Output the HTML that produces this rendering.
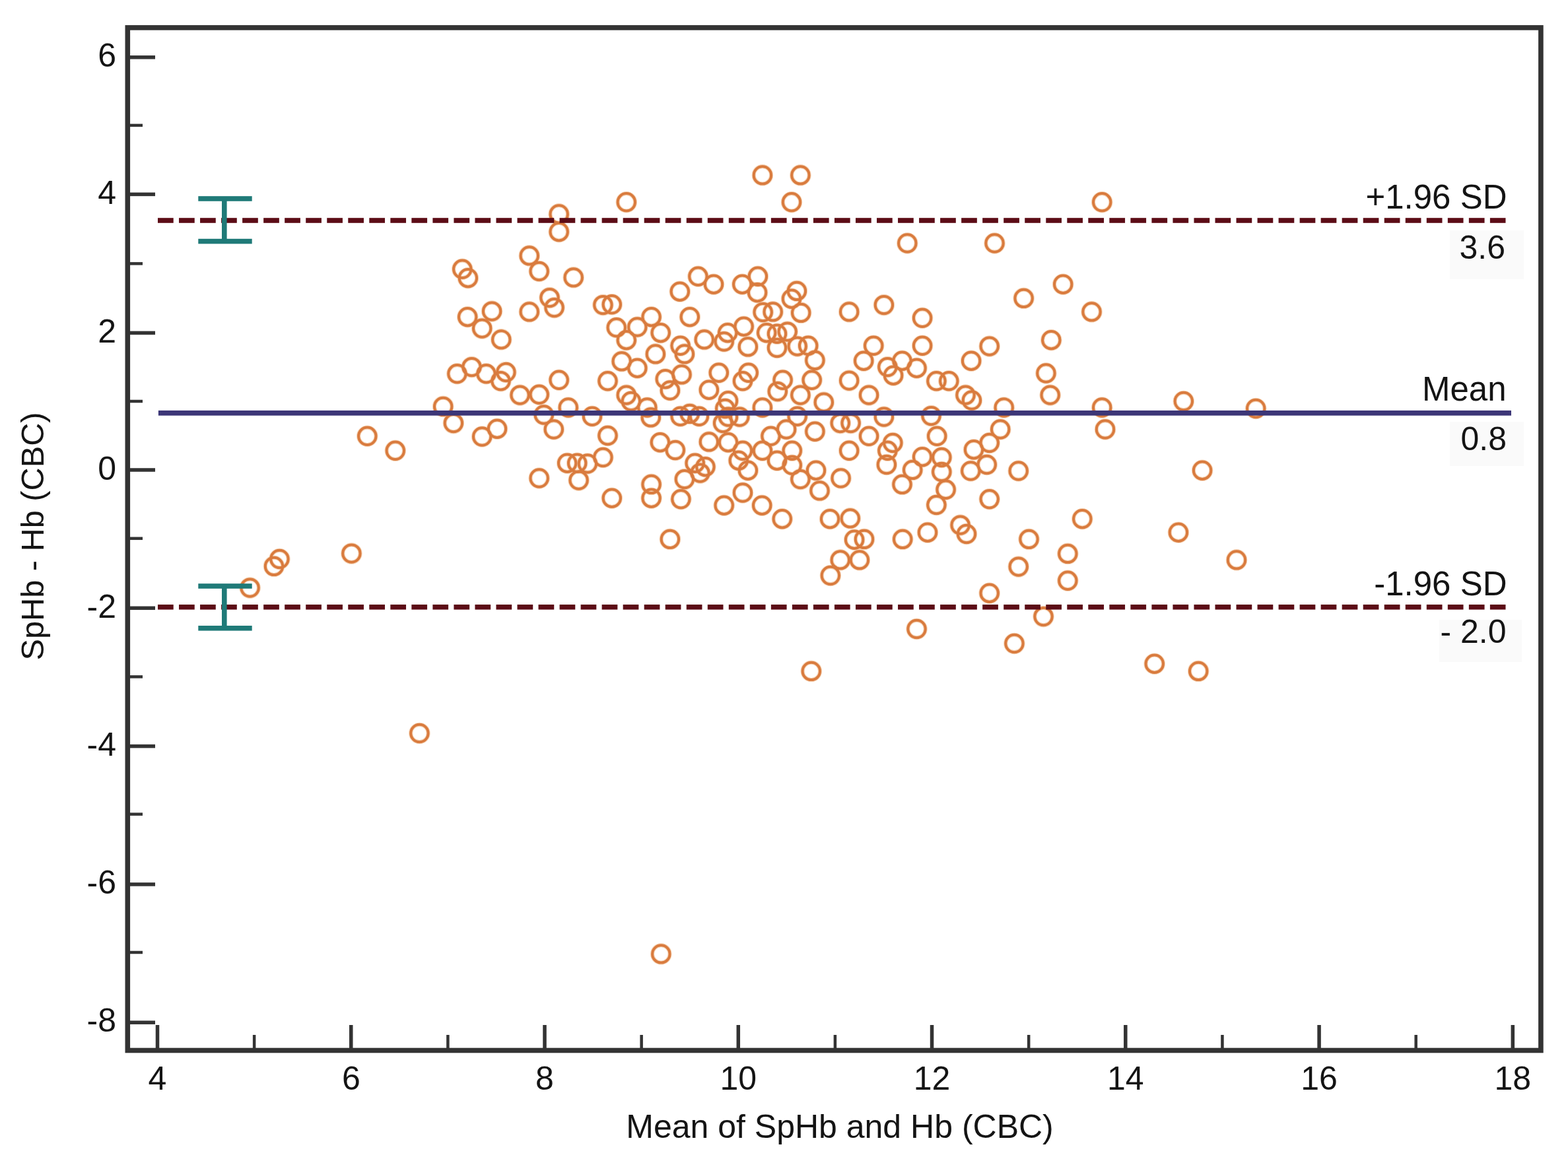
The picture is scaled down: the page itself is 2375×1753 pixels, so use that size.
<!DOCTYPE html><html><head><meta charset="utf-8"><title>Bland-Altman plot</title>
<style>html,body{margin:0;padding:0;background:#fff;overflow:hidden;}svg{display:block;}text{font-family:'Liberation Sans', Arial, Helvetica, sans-serif;fill:#141414;}</style></head><body>
<svg width="2375" height="1753" viewBox="0 0 2375 1753">
<rect x="0" y="0" width="2375" height="1753" fill="#ffffff"/>
<rect x="2196" y="349" width="112" height="74" fill="#fafafa"/>
<rect x="2196" y="639" width="112" height="67" fill="#fafafa"/>
<rect x="2180" y="939" width="125" height="64" fill="#fafafa"/>
<g fill="none" stroke="#f6d6ba" stroke-width="6.2">
<circle cx="846.7" cy="324.4" r="13.2"/>
<circle cx="846.7" cy="351.2" r="13.2"/>
<circle cx="801.8" cy="387.4" r="13.2"/>
<circle cx="816.7" cy="411.0" r="13.2"/>
<circle cx="868.7" cy="420.4" r="13.2"/>
<circle cx="700.3" cy="407.8" r="13.2"/>
<circle cx="708.9" cy="421.2" r="13.2"/>
<circle cx="832.5" cy="451.1" r="13.2"/>
<circle cx="839.6" cy="466.1" r="13.2"/>
<circle cx="801.8" cy="472.4" r="13.2"/>
<circle cx="745.1" cy="471.6" r="13.2"/>
<circle cx="708.2" cy="480.2" r="13.2"/>
<circle cx="948.8" cy="306.3" r="13.2"/>
<circle cx="1154.9" cy="265.4" r="13.2"/>
<circle cx="1212.4" cy="265.4" r="13.2"/>
<circle cx="1199.0" cy="306.3" r="13.2"/>
<circle cx="1057.4" cy="418.8" r="13.2"/>
<circle cx="1081.0" cy="430.7" r="13.2"/>
<circle cx="1029.8" cy="441.7" r="13.2"/>
<circle cx="1124.3" cy="430.7" r="13.2"/>
<circle cx="1147.9" cy="418.8" r="13.2"/>
<circle cx="1147.1" cy="443.2" r="13.2"/>
<circle cx="1206.9" cy="440.9" r="13.2"/>
<circle cx="1199.0" cy="452.7" r="13.2"/>
<circle cx="1213.2" cy="473.9" r="13.2"/>
<circle cx="1155.7" cy="473.1" r="13.2"/>
<circle cx="1170.7" cy="472.4" r="13.2"/>
<circle cx="913.4" cy="462.1" r="13.2"/>
<circle cx="926.8" cy="461.3" r="13.2"/>
<circle cx="986.6" cy="480.2" r="13.2"/>
<circle cx="1044.8" cy="480.2" r="13.2"/>
<circle cx="1374.3" cy="368.5" r="13.2"/>
<circle cx="1506.5" cy="368.5" r="13.2"/>
<circle cx="1550.6" cy="451.9" r="13.2"/>
<circle cx="1286.2" cy="472.4" r="13.2"/>
<circle cx="1338.9" cy="462.1" r="13.2"/>
<circle cx="1397.1" cy="481.8" r="13.2"/>
<circle cx="1669.2" cy="306.3" r="13.2"/>
<circle cx="1610.2" cy="430.7" r="13.2"/>
<circle cx="1653.5" cy="472.4" r="13.2"/>
<circle cx="730.2" cy="497.6" r="13.2"/>
<circle cx="759.3" cy="514.4" r="13.2"/>
<circle cx="692.4" cy="566.3" r="13.2"/>
<circle cx="714.5" cy="556.1" r="13.2"/>
<circle cx="736.5" cy="566.3" r="13.2"/>
<circle cx="766.4" cy="564.0" r="13.2"/>
<circle cx="758.5" cy="577.3" r="13.2"/>
<circle cx="846.7" cy="575.8" r="13.2"/>
<circle cx="787.6" cy="598.6" r="13.2"/>
<circle cx="816.7" cy="597.8" r="13.2"/>
<circle cx="671.2" cy="615.9" r="13.2"/>
<circle cx="686.9" cy="641.1" r="13.2"/>
<circle cx="753.0" cy="649.7" r="13.2"/>
<circle cx="730.2" cy="661.5" r="13.2"/>
<circle cx="823.8" cy="628.5" r="13.2"/>
<circle cx="860.8" cy="617.5" r="13.2"/>
<circle cx="838.8" cy="650.5" r="13.2"/>
<circle cx="897.0" cy="630.8" r="13.2"/>
<circle cx="556.3" cy="660.8" r="13.2"/>
<circle cx="598.8" cy="682.8" r="13.2"/>
<circle cx="816.7" cy="724.5" r="13.2"/>
<circle cx="859.2" cy="701.7" r="13.2"/>
<circle cx="874.2" cy="701.7" r="13.2"/>
<circle cx="889.9" cy="702.5" r="13.2"/>
<circle cx="876.6" cy="727.6" r="13.2"/>
<circle cx="933.8" cy="496.3" r="13.2"/>
<circle cx="965.3" cy="495.5" r="13.2"/>
<circle cx="1000.7" cy="504.2" r="13.2"/>
<circle cx="1066.8" cy="514.4" r="13.2"/>
<circle cx="1102.2" cy="504.2" r="13.2"/>
<circle cx="1096.7" cy="517.5" r="13.2"/>
<circle cx="1126.6" cy="494.7" r="13.2"/>
<circle cx="1132.9" cy="525.4" r="13.2"/>
<circle cx="1161.2" cy="504.2" r="13.2"/>
<circle cx="1177.0" cy="505.7" r="13.2"/>
<circle cx="1192.7" cy="502.6" r="13.2"/>
<circle cx="1177.0" cy="527.0" r="13.2"/>
<circle cx="1207.7" cy="524.6" r="13.2"/>
<circle cx="1224.2" cy="523.8" r="13.2"/>
<circle cx="1234.4" cy="545.9" r="13.2"/>
<circle cx="948.8" cy="515.2" r="13.2"/>
<circle cx="992.9" cy="536.4" r="13.2"/>
<circle cx="1030.6" cy="523.8" r="13.2"/>
<circle cx="1036.9" cy="536.4" r="13.2"/>
<circle cx="941.7" cy="547.4" r="13.2"/>
<circle cx="965.3" cy="557.7" r="13.2"/>
<circle cx="920.5" cy="577.3" r="13.2"/>
<circle cx="1007.8" cy="574.2" r="13.2"/>
<circle cx="1088.8" cy="564.8" r="13.2"/>
<circle cx="1073.9" cy="590.7" r="13.2"/>
<circle cx="1125.0" cy="577.3" r="13.2"/>
<circle cx="1133.7" cy="564.8" r="13.2"/>
<circle cx="1185.6" cy="575.8" r="13.2"/>
<circle cx="1229.7" cy="575.8" r="13.2"/>
<circle cx="1177.8" cy="593.1" r="13.2"/>
<circle cx="1212.4" cy="598.6" r="13.2"/>
<circle cx="1247.8" cy="609.6" r="13.2"/>
<circle cx="948.8" cy="598.6" r="13.2"/>
<circle cx="955.9" cy="608.0" r="13.2"/>
<circle cx="980.3" cy="617.5" r="13.2"/>
<circle cx="985.8" cy="632.4" r="13.2"/>
<circle cx="1103.0" cy="607.2" r="13.2"/>
<circle cx="1098.3" cy="619.0" r="13.2"/>
<circle cx="1154.9" cy="617.5" r="13.2"/>
<circle cx="1030.6" cy="630.8" r="13.2"/>
<circle cx="1044.8" cy="626.9" r="13.2"/>
<circle cx="1058.9" cy="630.8" r="13.2"/>
<circle cx="1103.0" cy="631.6" r="13.2"/>
<circle cx="1120.3" cy="631.6" r="13.2"/>
<circle cx="1095.1" cy="641.1" r="13.2"/>
<circle cx="1207.7" cy="630.8" r="13.2"/>
<circle cx="1032.5" cy="567.4" r="13.2"/>
<circle cx="1014.9" cy="591.5" r="13.2"/>
<circle cx="920.5" cy="660.0" r="13.2"/>
<circle cx="913.4" cy="693.0" r="13.2"/>
<circle cx="999.9" cy="670.2" r="13.2"/>
<circle cx="1022.8" cy="682.0" r="13.2"/>
<circle cx="1073.9" cy="669.4" r="13.2"/>
<circle cx="1103.0" cy="670.2" r="13.2"/>
<circle cx="1125.0" cy="682.8" r="13.2"/>
<circle cx="1154.9" cy="682.8" r="13.2"/>
<circle cx="1167.5" cy="660.8" r="13.2"/>
<circle cx="1191.1" cy="650.5" r="13.2"/>
<circle cx="1234.4" cy="653.7" r="13.2"/>
<circle cx="1199.8" cy="682.8" r="13.2"/>
<circle cx="1177.0" cy="697.7" r="13.2"/>
<circle cx="1199.8" cy="704.8" r="13.2"/>
<circle cx="1236.0" cy="712.7" r="13.2"/>
<circle cx="1212.4" cy="726.1" r="13.2"/>
<circle cx="1052.7" cy="701.7" r="13.2"/>
<circle cx="1068.4" cy="707.2" r="13.2"/>
<circle cx="1132.9" cy="712.7" r="13.2"/>
<circle cx="1118.8" cy="697.7" r="13.2"/>
<circle cx="1036.9" cy="726.1" r="13.2"/>
<circle cx="1060.5" cy="716.6" r="13.2"/>
<circle cx="986.6" cy="733.9" r="13.2"/>
<circle cx="1125.0" cy="746.5" r="13.2"/>
<circle cx="1241.5" cy="743.4" r="13.2"/>
<circle cx="1323.2" cy="523.8" r="13.2"/>
<circle cx="1308.2" cy="546.7" r="13.2"/>
<circle cx="1397.1" cy="523.8" r="13.2"/>
<circle cx="1366.5" cy="546.7" r="13.2"/>
<circle cx="1388.5" cy="557.7" r="13.2"/>
<circle cx="1344.4" cy="556.1" r="13.2"/>
<circle cx="1353.1" cy="568.7" r="13.2"/>
<circle cx="1471.1" cy="546.7" r="13.2"/>
<circle cx="1498.7" cy="524.6" r="13.2"/>
<circle cx="1592.3" cy="515.2" r="13.2"/>
<circle cx="1584.4" cy="565.5" r="13.2"/>
<circle cx="1590.7" cy="598.6" r="13.2"/>
<circle cx="1286.2" cy="576.6" r="13.2"/>
<circle cx="1418.4" cy="577.3" r="13.2"/>
<circle cx="1437.3" cy="577.3" r="13.2"/>
<circle cx="1462.5" cy="598.6" r="13.2"/>
<circle cx="1471.9" cy="606.5" r="13.2"/>
<circle cx="1316.1" cy="598.6" r="13.2"/>
<circle cx="1520.7" cy="617.5" r="13.2"/>
<circle cx="1338.9" cy="631.6" r="13.2"/>
<circle cx="1410.5" cy="630.1" r="13.2"/>
<circle cx="1272.8" cy="641.1" r="13.2"/>
<circle cx="1288.6" cy="641.1" r="13.2"/>
<circle cx="1316.1" cy="660.8" r="13.2"/>
<circle cx="1419.2" cy="660.8" r="13.2"/>
<circle cx="1515.2" cy="650.5" r="13.2"/>
<circle cx="1498.7" cy="671.0" r="13.2"/>
<circle cx="1475.0" cy="681.2" r="13.2"/>
<circle cx="1352.3" cy="671.0" r="13.2"/>
<circle cx="1344.4" cy="682.8" r="13.2"/>
<circle cx="1342.9" cy="704.0" r="13.2"/>
<circle cx="1286.2" cy="682.8" r="13.2"/>
<circle cx="1397.1" cy="692.2" r="13.2"/>
<circle cx="1426.3" cy="693.0" r="13.2"/>
<circle cx="1382.2" cy="711.9" r="13.2"/>
<circle cx="1426.3" cy="715.0" r="13.2"/>
<circle cx="1470.3" cy="713.5" r="13.2"/>
<circle cx="1494.7" cy="704.0" r="13.2"/>
<circle cx="1542.7" cy="713.5" r="13.2"/>
<circle cx="1273.6" cy="724.5" r="13.2"/>
<circle cx="1366.5" cy="733.9" r="13.2"/>
<circle cx="1432.6" cy="741.8" r="13.2"/>
<circle cx="1669.2" cy="617.5" r="13.2"/>
<circle cx="1674.0" cy="650.5" r="13.2"/>
<circle cx="1792.8" cy="608.0" r="13.2"/>
<circle cx="1902.2" cy="619.0" r="13.2"/>
<circle cx="1821.1" cy="712.7" r="13.2"/>
<circle cx="926.8" cy="754.7" r="13.2"/>
<circle cx="986.6" cy="754.7" r="13.2"/>
<circle cx="1031.4" cy="756.3" r="13.2"/>
<circle cx="1096.7" cy="765.7" r="13.2"/>
<circle cx="1154.2" cy="765.7" r="13.2"/>
<circle cx="1184.8" cy="786.2" r="13.2"/>
<circle cx="1014.9" cy="816.9" r="13.2"/>
<circle cx="1418.4" cy="765.0" r="13.2"/>
<circle cx="1498.7" cy="756.3" r="13.2"/>
<circle cx="1257.1" cy="786.2" r="13.2"/>
<circle cx="1287.8" cy="785.4" r="13.2"/>
<circle cx="1294.1" cy="817.7" r="13.2"/>
<circle cx="1309.0" cy="816.9" r="13.2"/>
<circle cx="1272.8" cy="848.4" r="13.2"/>
<circle cx="1301.9" cy="848.4" r="13.2"/>
<circle cx="1257.9" cy="872.0" r="13.2"/>
<circle cx="1367.2" cy="816.9" r="13.2"/>
<circle cx="1405.0" cy="806.7" r="13.2"/>
<circle cx="1454.6" cy="795.6" r="13.2"/>
<circle cx="1464.0" cy="809.0" r="13.2"/>
<circle cx="1558.5" cy="816.9" r="13.2"/>
<circle cx="1542.7" cy="858.6" r="13.2"/>
<circle cx="1498.7" cy="898.7" r="13.2"/>
<circle cx="1580.5" cy="934.1" r="13.2"/>
<circle cx="1388.5" cy="953.0" r="13.2"/>
<circle cx="1536.4" cy="975.0" r="13.2"/>
<circle cx="1639.3" cy="786.2" r="13.2"/>
<circle cx="1617.3" cy="838.9" r="13.2"/>
<circle cx="1617.3" cy="879.8" r="13.2"/>
<circle cx="1784.9" cy="806.7" r="13.2"/>
<circle cx="1873.0" cy="848.4" r="13.2"/>
<circle cx="1748.7" cy="1005.7" r="13.2"/>
<circle cx="1228.8" cy="1016.9" r="13.2"/>
<circle cx="1815.2" cy="1016.9" r="13.2"/>
<circle cx="423.4" cy="847" r="13.2"/>
<circle cx="415" cy="857.9" r="13.2"/>
<circle cx="378.6" cy="890.6" r="13.2"/>
<circle cx="532.4" cy="838.6" r="13.2"/>
<circle cx="635.4" cy="1111" r="13.2"/>
<circle cx="1001.3" cy="1445.4" r="13.2"/>
</g>
<g fill="none" stroke="#d97b3e" stroke-width="4.0">
<circle cx="846.7" cy="324.4" r="13.2"/>
<circle cx="846.7" cy="351.2" r="13.2"/>
<circle cx="801.8" cy="387.4" r="13.2"/>
<circle cx="816.7" cy="411.0" r="13.2"/>
<circle cx="868.7" cy="420.4" r="13.2"/>
<circle cx="700.3" cy="407.8" r="13.2"/>
<circle cx="708.9" cy="421.2" r="13.2"/>
<circle cx="832.5" cy="451.1" r="13.2"/>
<circle cx="839.6" cy="466.1" r="13.2"/>
<circle cx="801.8" cy="472.4" r="13.2"/>
<circle cx="745.1" cy="471.6" r="13.2"/>
<circle cx="708.2" cy="480.2" r="13.2"/>
<circle cx="948.8" cy="306.3" r="13.2"/>
<circle cx="1154.9" cy="265.4" r="13.2"/>
<circle cx="1212.4" cy="265.4" r="13.2"/>
<circle cx="1199.0" cy="306.3" r="13.2"/>
<circle cx="1057.4" cy="418.8" r="13.2"/>
<circle cx="1081.0" cy="430.7" r="13.2"/>
<circle cx="1029.8" cy="441.7" r="13.2"/>
<circle cx="1124.3" cy="430.7" r="13.2"/>
<circle cx="1147.9" cy="418.8" r="13.2"/>
<circle cx="1147.1" cy="443.2" r="13.2"/>
<circle cx="1206.9" cy="440.9" r="13.2"/>
<circle cx="1199.0" cy="452.7" r="13.2"/>
<circle cx="1213.2" cy="473.9" r="13.2"/>
<circle cx="1155.7" cy="473.1" r="13.2"/>
<circle cx="1170.7" cy="472.4" r="13.2"/>
<circle cx="913.4" cy="462.1" r="13.2"/>
<circle cx="926.8" cy="461.3" r="13.2"/>
<circle cx="986.6" cy="480.2" r="13.2"/>
<circle cx="1044.8" cy="480.2" r="13.2"/>
<circle cx="1374.3" cy="368.5" r="13.2"/>
<circle cx="1506.5" cy="368.5" r="13.2"/>
<circle cx="1550.6" cy="451.9" r="13.2"/>
<circle cx="1286.2" cy="472.4" r="13.2"/>
<circle cx="1338.9" cy="462.1" r="13.2"/>
<circle cx="1397.1" cy="481.8" r="13.2"/>
<circle cx="1669.2" cy="306.3" r="13.2"/>
<circle cx="1610.2" cy="430.7" r="13.2"/>
<circle cx="1653.5" cy="472.4" r="13.2"/>
<circle cx="730.2" cy="497.6" r="13.2"/>
<circle cx="759.3" cy="514.4" r="13.2"/>
<circle cx="692.4" cy="566.3" r="13.2"/>
<circle cx="714.5" cy="556.1" r="13.2"/>
<circle cx="736.5" cy="566.3" r="13.2"/>
<circle cx="766.4" cy="564.0" r="13.2"/>
<circle cx="758.5" cy="577.3" r="13.2"/>
<circle cx="846.7" cy="575.8" r="13.2"/>
<circle cx="787.6" cy="598.6" r="13.2"/>
<circle cx="816.7" cy="597.8" r="13.2"/>
<circle cx="671.2" cy="615.9" r="13.2"/>
<circle cx="686.9" cy="641.1" r="13.2"/>
<circle cx="753.0" cy="649.7" r="13.2"/>
<circle cx="730.2" cy="661.5" r="13.2"/>
<circle cx="823.8" cy="628.5" r="13.2"/>
<circle cx="860.8" cy="617.5" r="13.2"/>
<circle cx="838.8" cy="650.5" r="13.2"/>
<circle cx="897.0" cy="630.8" r="13.2"/>
<circle cx="556.3" cy="660.8" r="13.2"/>
<circle cx="598.8" cy="682.8" r="13.2"/>
<circle cx="816.7" cy="724.5" r="13.2"/>
<circle cx="859.2" cy="701.7" r="13.2"/>
<circle cx="874.2" cy="701.7" r="13.2"/>
<circle cx="889.9" cy="702.5" r="13.2"/>
<circle cx="876.6" cy="727.6" r="13.2"/>
<circle cx="933.8" cy="496.3" r="13.2"/>
<circle cx="965.3" cy="495.5" r="13.2"/>
<circle cx="1000.7" cy="504.2" r="13.2"/>
<circle cx="1066.8" cy="514.4" r="13.2"/>
<circle cx="1102.2" cy="504.2" r="13.2"/>
<circle cx="1096.7" cy="517.5" r="13.2"/>
<circle cx="1126.6" cy="494.7" r="13.2"/>
<circle cx="1132.9" cy="525.4" r="13.2"/>
<circle cx="1161.2" cy="504.2" r="13.2"/>
<circle cx="1177.0" cy="505.7" r="13.2"/>
<circle cx="1192.7" cy="502.6" r="13.2"/>
<circle cx="1177.0" cy="527.0" r="13.2"/>
<circle cx="1207.7" cy="524.6" r="13.2"/>
<circle cx="1224.2" cy="523.8" r="13.2"/>
<circle cx="1234.4" cy="545.9" r="13.2"/>
<circle cx="948.8" cy="515.2" r="13.2"/>
<circle cx="992.9" cy="536.4" r="13.2"/>
<circle cx="1030.6" cy="523.8" r="13.2"/>
<circle cx="1036.9" cy="536.4" r="13.2"/>
<circle cx="941.7" cy="547.4" r="13.2"/>
<circle cx="965.3" cy="557.7" r="13.2"/>
<circle cx="920.5" cy="577.3" r="13.2"/>
<circle cx="1007.8" cy="574.2" r="13.2"/>
<circle cx="1088.8" cy="564.8" r="13.2"/>
<circle cx="1073.9" cy="590.7" r="13.2"/>
<circle cx="1125.0" cy="577.3" r="13.2"/>
<circle cx="1133.7" cy="564.8" r="13.2"/>
<circle cx="1185.6" cy="575.8" r="13.2"/>
<circle cx="1229.7" cy="575.8" r="13.2"/>
<circle cx="1177.8" cy="593.1" r="13.2"/>
<circle cx="1212.4" cy="598.6" r="13.2"/>
<circle cx="1247.8" cy="609.6" r="13.2"/>
<circle cx="948.8" cy="598.6" r="13.2"/>
<circle cx="955.9" cy="608.0" r="13.2"/>
<circle cx="980.3" cy="617.5" r="13.2"/>
<circle cx="985.8" cy="632.4" r="13.2"/>
<circle cx="1103.0" cy="607.2" r="13.2"/>
<circle cx="1098.3" cy="619.0" r="13.2"/>
<circle cx="1154.9" cy="617.5" r="13.2"/>
<circle cx="1030.6" cy="630.8" r="13.2"/>
<circle cx="1044.8" cy="626.9" r="13.2"/>
<circle cx="1058.9" cy="630.8" r="13.2"/>
<circle cx="1103.0" cy="631.6" r="13.2"/>
<circle cx="1120.3" cy="631.6" r="13.2"/>
<circle cx="1095.1" cy="641.1" r="13.2"/>
<circle cx="1207.7" cy="630.8" r="13.2"/>
<circle cx="1032.5" cy="567.4" r="13.2"/>
<circle cx="1014.9" cy="591.5" r="13.2"/>
<circle cx="920.5" cy="660.0" r="13.2"/>
<circle cx="913.4" cy="693.0" r="13.2"/>
<circle cx="999.9" cy="670.2" r="13.2"/>
<circle cx="1022.8" cy="682.0" r="13.2"/>
<circle cx="1073.9" cy="669.4" r="13.2"/>
<circle cx="1103.0" cy="670.2" r="13.2"/>
<circle cx="1125.0" cy="682.8" r="13.2"/>
<circle cx="1154.9" cy="682.8" r="13.2"/>
<circle cx="1167.5" cy="660.8" r="13.2"/>
<circle cx="1191.1" cy="650.5" r="13.2"/>
<circle cx="1234.4" cy="653.7" r="13.2"/>
<circle cx="1199.8" cy="682.8" r="13.2"/>
<circle cx="1177.0" cy="697.7" r="13.2"/>
<circle cx="1199.8" cy="704.8" r="13.2"/>
<circle cx="1236.0" cy="712.7" r="13.2"/>
<circle cx="1212.4" cy="726.1" r="13.2"/>
<circle cx="1052.7" cy="701.7" r="13.2"/>
<circle cx="1068.4" cy="707.2" r="13.2"/>
<circle cx="1132.9" cy="712.7" r="13.2"/>
<circle cx="1118.8" cy="697.7" r="13.2"/>
<circle cx="1036.9" cy="726.1" r="13.2"/>
<circle cx="1060.5" cy="716.6" r="13.2"/>
<circle cx="986.6" cy="733.9" r="13.2"/>
<circle cx="1125.0" cy="746.5" r="13.2"/>
<circle cx="1241.5" cy="743.4" r="13.2"/>
<circle cx="1323.2" cy="523.8" r="13.2"/>
<circle cx="1308.2" cy="546.7" r="13.2"/>
<circle cx="1397.1" cy="523.8" r="13.2"/>
<circle cx="1366.5" cy="546.7" r="13.2"/>
<circle cx="1388.5" cy="557.7" r="13.2"/>
<circle cx="1344.4" cy="556.1" r="13.2"/>
<circle cx="1353.1" cy="568.7" r="13.2"/>
<circle cx="1471.1" cy="546.7" r="13.2"/>
<circle cx="1498.7" cy="524.6" r="13.2"/>
<circle cx="1592.3" cy="515.2" r="13.2"/>
<circle cx="1584.4" cy="565.5" r="13.2"/>
<circle cx="1590.7" cy="598.6" r="13.2"/>
<circle cx="1286.2" cy="576.6" r="13.2"/>
<circle cx="1418.4" cy="577.3" r="13.2"/>
<circle cx="1437.3" cy="577.3" r="13.2"/>
<circle cx="1462.5" cy="598.6" r="13.2"/>
<circle cx="1471.9" cy="606.5" r="13.2"/>
<circle cx="1316.1" cy="598.6" r="13.2"/>
<circle cx="1520.7" cy="617.5" r="13.2"/>
<circle cx="1338.9" cy="631.6" r="13.2"/>
<circle cx="1410.5" cy="630.1" r="13.2"/>
<circle cx="1272.8" cy="641.1" r="13.2"/>
<circle cx="1288.6" cy="641.1" r="13.2"/>
<circle cx="1316.1" cy="660.8" r="13.2"/>
<circle cx="1419.2" cy="660.8" r="13.2"/>
<circle cx="1515.2" cy="650.5" r="13.2"/>
<circle cx="1498.7" cy="671.0" r="13.2"/>
<circle cx="1475.0" cy="681.2" r="13.2"/>
<circle cx="1352.3" cy="671.0" r="13.2"/>
<circle cx="1344.4" cy="682.8" r="13.2"/>
<circle cx="1342.9" cy="704.0" r="13.2"/>
<circle cx="1286.2" cy="682.8" r="13.2"/>
<circle cx="1397.1" cy="692.2" r="13.2"/>
<circle cx="1426.3" cy="693.0" r="13.2"/>
<circle cx="1382.2" cy="711.9" r="13.2"/>
<circle cx="1426.3" cy="715.0" r="13.2"/>
<circle cx="1470.3" cy="713.5" r="13.2"/>
<circle cx="1494.7" cy="704.0" r="13.2"/>
<circle cx="1542.7" cy="713.5" r="13.2"/>
<circle cx="1273.6" cy="724.5" r="13.2"/>
<circle cx="1366.5" cy="733.9" r="13.2"/>
<circle cx="1432.6" cy="741.8" r="13.2"/>
<circle cx="1669.2" cy="617.5" r="13.2"/>
<circle cx="1674.0" cy="650.5" r="13.2"/>
<circle cx="1792.8" cy="608.0" r="13.2"/>
<circle cx="1902.2" cy="619.0" r="13.2"/>
<circle cx="1821.1" cy="712.7" r="13.2"/>
<circle cx="926.8" cy="754.7" r="13.2"/>
<circle cx="986.6" cy="754.7" r="13.2"/>
<circle cx="1031.4" cy="756.3" r="13.2"/>
<circle cx="1096.7" cy="765.7" r="13.2"/>
<circle cx="1154.2" cy="765.7" r="13.2"/>
<circle cx="1184.8" cy="786.2" r="13.2"/>
<circle cx="1014.9" cy="816.9" r="13.2"/>
<circle cx="1418.4" cy="765.0" r="13.2"/>
<circle cx="1498.7" cy="756.3" r="13.2"/>
<circle cx="1257.1" cy="786.2" r="13.2"/>
<circle cx="1287.8" cy="785.4" r="13.2"/>
<circle cx="1294.1" cy="817.7" r="13.2"/>
<circle cx="1309.0" cy="816.9" r="13.2"/>
<circle cx="1272.8" cy="848.4" r="13.2"/>
<circle cx="1301.9" cy="848.4" r="13.2"/>
<circle cx="1257.9" cy="872.0" r="13.2"/>
<circle cx="1367.2" cy="816.9" r="13.2"/>
<circle cx="1405.0" cy="806.7" r="13.2"/>
<circle cx="1454.6" cy="795.6" r="13.2"/>
<circle cx="1464.0" cy="809.0" r="13.2"/>
<circle cx="1558.5" cy="816.9" r="13.2"/>
<circle cx="1542.7" cy="858.6" r="13.2"/>
<circle cx="1498.7" cy="898.7" r="13.2"/>
<circle cx="1580.5" cy="934.1" r="13.2"/>
<circle cx="1388.5" cy="953.0" r="13.2"/>
<circle cx="1536.4" cy="975.0" r="13.2"/>
<circle cx="1639.3" cy="786.2" r="13.2"/>
<circle cx="1617.3" cy="838.9" r="13.2"/>
<circle cx="1617.3" cy="879.8" r="13.2"/>
<circle cx="1784.9" cy="806.7" r="13.2"/>
<circle cx="1873.0" cy="848.4" r="13.2"/>
<circle cx="1748.7" cy="1005.7" r="13.2"/>
<circle cx="1228.8" cy="1016.9" r="13.2"/>
<circle cx="1815.2" cy="1016.9" r="13.2"/>
<circle cx="423.4" cy="847" r="13.2"/>
<circle cx="415" cy="857.9" r="13.2"/>
<circle cx="378.6" cy="890.6" r="13.2"/>
<circle cx="532.4" cy="838.6" r="13.2"/>
<circle cx="635.4" cy="1111" r="13.2"/>
<circle cx="1001.3" cy="1445.4" r="13.2"/>
</g>
<g fill="#5c0c16"><rect x="239.00" y="330.20" width="23.70" height="7.6"/><rect x="271.03" y="330.20" width="23.70" height="7.6"/><rect x="303.06" y="330.20" width="23.70" height="7.6"/><rect x="335.09" y="330.20" width="23.70" height="7.6"/><rect x="367.12" y="330.20" width="23.70" height="7.6"/><rect x="399.15" y="330.20" width="23.70" height="7.6"/><rect x="431.18" y="330.20" width="23.70" height="7.6"/><rect x="463.21" y="330.20" width="23.70" height="7.6"/><rect x="495.24" y="330.20" width="23.70" height="7.6"/><rect x="527.27" y="330.20" width="23.70" height="7.6"/><rect x="559.30" y="330.20" width="23.70" height="7.6"/><rect x="591.33" y="330.20" width="23.70" height="7.6"/><rect x="623.36" y="330.20" width="23.70" height="7.6"/><rect x="655.39" y="330.20" width="23.70" height="7.6"/><rect x="687.42" y="330.20" width="23.70" height="7.6"/><rect x="719.45" y="330.20" width="23.70" height="7.6"/><rect x="751.48" y="330.20" width="23.70" height="7.6"/><rect x="783.51" y="330.20" width="23.70" height="7.6"/><rect x="815.54" y="330.20" width="23.70" height="7.6"/><rect x="847.57" y="330.20" width="23.70" height="7.6"/><rect x="879.60" y="330.20" width="23.70" height="7.6"/><rect x="911.63" y="330.20" width="23.70" height="7.6"/><rect x="943.66" y="330.20" width="23.70" height="7.6"/><rect x="975.69" y="330.20" width="23.70" height="7.6"/><rect x="1007.72" y="330.20" width="23.70" height="7.6"/><rect x="1039.75" y="330.20" width="23.70" height="7.6"/><rect x="1071.78" y="330.20" width="23.70" height="7.6"/><rect x="1103.81" y="330.20" width="23.70" height="7.6"/><rect x="1135.84" y="330.20" width="23.70" height="7.6"/><rect x="1167.87" y="330.20" width="23.70" height="7.6"/><rect x="1199.90" y="330.20" width="23.70" height="7.6"/><rect x="1231.93" y="330.20" width="23.70" height="7.6"/><rect x="1263.96" y="330.20" width="23.70" height="7.6"/><rect x="1295.99" y="330.20" width="23.70" height="7.6"/><rect x="1328.02" y="330.20" width="23.70" height="7.6"/><rect x="1360.05" y="330.20" width="23.70" height="7.6"/><rect x="1392.08" y="330.20" width="23.70" height="7.6"/><rect x="1424.11" y="330.20" width="23.70" height="7.6"/><rect x="1456.14" y="330.20" width="23.70" height="7.6"/><rect x="1488.17" y="330.20" width="23.70" height="7.6"/><rect x="1520.20" y="330.20" width="23.70" height="7.6"/><rect x="1552.23" y="330.20" width="23.70" height="7.6"/><rect x="1584.26" y="330.20" width="23.70" height="7.6"/><rect x="1616.29" y="330.20" width="23.70" height="7.6"/><rect x="1648.32" y="330.20" width="23.70" height="7.6"/><rect x="1680.35" y="330.20" width="23.70" height="7.6"/><rect x="1712.38" y="330.20" width="23.70" height="7.6"/><rect x="1744.41" y="330.20" width="23.70" height="7.6"/><rect x="1776.44" y="330.20" width="23.70" height="7.6"/><rect x="1808.47" y="330.20" width="23.70" height="7.6"/><rect x="1840.50" y="330.20" width="23.70" height="7.6"/><rect x="1872.53" y="330.20" width="23.70" height="7.6"/><rect x="1904.56" y="330.20" width="23.70" height="7.6"/><rect x="1936.59" y="330.20" width="23.70" height="7.6"/><rect x="1968.62" y="330.20" width="23.70" height="7.6"/><rect x="2000.65" y="330.20" width="23.70" height="7.6"/><rect x="2032.68" y="330.20" width="23.70" height="7.6"/><rect x="2064.71" y="330.20" width="23.70" height="7.6"/><rect x="2096.74" y="330.20" width="23.70" height="7.6"/><rect x="2128.77" y="330.20" width="23.70" height="7.6"/><rect x="2160.80" y="330.20" width="23.70" height="7.6"/><rect x="2192.83" y="330.20" width="23.70" height="7.6"/><rect x="2224.86" y="330.20" width="23.70" height="7.6"/><rect x="2256.89" y="330.20" width="23.61" height="7.6"/></g>
<g fill="#5c0c16"><rect x="239.00" y="916.00" width="23.70" height="7.6"/><rect x="271.03" y="916.00" width="23.70" height="7.6"/><rect x="303.06" y="916.00" width="23.70" height="7.6"/><rect x="335.09" y="916.00" width="23.70" height="7.6"/><rect x="367.12" y="916.00" width="23.70" height="7.6"/><rect x="399.15" y="916.00" width="23.70" height="7.6"/><rect x="431.18" y="916.00" width="23.70" height="7.6"/><rect x="463.21" y="916.00" width="23.70" height="7.6"/><rect x="495.24" y="916.00" width="23.70" height="7.6"/><rect x="527.27" y="916.00" width="23.70" height="7.6"/><rect x="559.30" y="916.00" width="23.70" height="7.6"/><rect x="591.33" y="916.00" width="23.70" height="7.6"/><rect x="623.36" y="916.00" width="23.70" height="7.6"/><rect x="655.39" y="916.00" width="23.70" height="7.6"/><rect x="687.42" y="916.00" width="23.70" height="7.6"/><rect x="719.45" y="916.00" width="23.70" height="7.6"/><rect x="751.48" y="916.00" width="23.70" height="7.6"/><rect x="783.51" y="916.00" width="23.70" height="7.6"/><rect x="815.54" y="916.00" width="23.70" height="7.6"/><rect x="847.57" y="916.00" width="23.70" height="7.6"/><rect x="879.60" y="916.00" width="23.70" height="7.6"/><rect x="911.63" y="916.00" width="23.70" height="7.6"/><rect x="943.66" y="916.00" width="23.70" height="7.6"/><rect x="975.69" y="916.00" width="23.70" height="7.6"/><rect x="1007.72" y="916.00" width="23.70" height="7.6"/><rect x="1039.75" y="916.00" width="23.70" height="7.6"/><rect x="1071.78" y="916.00" width="23.70" height="7.6"/><rect x="1103.81" y="916.00" width="23.70" height="7.6"/><rect x="1135.84" y="916.00" width="23.70" height="7.6"/><rect x="1167.87" y="916.00" width="23.70" height="7.6"/><rect x="1199.90" y="916.00" width="23.70" height="7.6"/><rect x="1231.93" y="916.00" width="23.70" height="7.6"/><rect x="1263.96" y="916.00" width="23.70" height="7.6"/><rect x="1295.99" y="916.00" width="23.70" height="7.6"/><rect x="1328.02" y="916.00" width="23.70" height="7.6"/><rect x="1360.05" y="916.00" width="23.70" height="7.6"/><rect x="1392.08" y="916.00" width="23.70" height="7.6"/><rect x="1424.11" y="916.00" width="23.70" height="7.6"/><rect x="1456.14" y="916.00" width="23.70" height="7.6"/><rect x="1488.17" y="916.00" width="23.70" height="7.6"/><rect x="1520.20" y="916.00" width="23.70" height="7.6"/><rect x="1552.23" y="916.00" width="23.70" height="7.6"/><rect x="1584.26" y="916.00" width="23.70" height="7.6"/><rect x="1616.29" y="916.00" width="23.70" height="7.6"/><rect x="1648.32" y="916.00" width="23.70" height="7.6"/><rect x="1680.35" y="916.00" width="23.70" height="7.6"/><rect x="1712.38" y="916.00" width="23.70" height="7.6"/><rect x="1744.41" y="916.00" width="23.70" height="7.6"/><rect x="1776.44" y="916.00" width="23.70" height="7.6"/><rect x="1808.47" y="916.00" width="23.70" height="7.6"/><rect x="1840.50" y="916.00" width="23.70" height="7.6"/><rect x="1872.53" y="916.00" width="23.70" height="7.6"/><rect x="1904.56" y="916.00" width="23.70" height="7.6"/><rect x="1936.59" y="916.00" width="23.70" height="7.6"/><rect x="1968.62" y="916.00" width="23.70" height="7.6"/><rect x="2000.65" y="916.00" width="23.70" height="7.6"/><rect x="2032.68" y="916.00" width="23.70" height="7.6"/><rect x="2064.71" y="916.00" width="23.70" height="7.6"/><rect x="2096.74" y="916.00" width="23.70" height="7.6"/><rect x="2128.77" y="916.00" width="23.70" height="7.6"/><rect x="2160.80" y="916.00" width="23.70" height="7.6"/><rect x="2192.83" y="916.00" width="23.70" height="7.6"/><rect x="2224.86" y="916.00" width="23.70" height="7.6"/><rect x="2256.89" y="916.00" width="23.61" height="7.6"/></g>
<rect x="239.9" y="621.9499999999999" width="2049.1" height="7.7" fill="#3c3677"/>
<g fill="#1f7a78"><rect x="300.3" y="297.2" width="81.4" height="7.6"/><rect x="300.3" y="361.8" width="81.4" height="7.6"/><rect x="336.0" y="301.0" width="7.6" height="64.60000000000002"/></g>
<g fill="#1f7a78"><rect x="300.3" y="884.2" width="81.4" height="7.6"/><rect x="300.3" y="948.0" width="81.4" height="7.6"/><rect x="336.0" y="888.0" width="7.6" height="63.799999999999955"/></g>
<rect x="193.3" y="41.9" width="2140.6" height="1549.6" fill="none" stroke="#333333" stroke-width="7.6"/>
<g fill="#333333"><rect x="197" y="84.05" width="38" height="5.5"/><rect x="197" y="291.65" width="38" height="5.5"/><rect x="197" y="501.65" width="38" height="5.5"/><rect x="197" y="709.25" width="38" height="5.5"/><rect x="197" y="918.55" width="38" height="5.5"/><rect x="197" y="1127.85" width="38" height="5.5"/><rect x="197" y="1337.15" width="38" height="5.5"/><rect x="197" y="1546.45" width="38" height="5.5"/><rect x="197" y="187.65" width="19" height="4.5"/><rect x="197" y="397.15" width="19" height="4.5"/><rect x="197" y="605.75" width="19" height="4.5"/><rect x="197" y="813.55" width="19" height="4.5"/><rect x="197" y="1023.15" width="19" height="4.5"/><rect x="197" y="1231.35" width="19" height="4.5"/><rect x="197" y="1440.75" width="19" height="4.5"/><rect x="235.75" y="1553" width="5.5" height="35"/><rect x="529.01" y="1553" width="5.5" height="35"/><rect x="822.27" y="1553" width="5.5" height="35"/><rect x="1115.53" y="1553" width="5.5" height="35"/><rect x="1408.79" y="1553" width="5.5" height="35"/><rect x="1702.05" y="1553" width="5.5" height="35"/><rect x="1995.31" y="1553" width="5.5" height="35"/><rect x="2288.57" y="1553" width="5.5" height="35"/><rect x="382.88" y="1568" width="4.5" height="20"/><rect x="676.14" y="1568" width="4.5" height="20"/><rect x="969.40" y="1568" width="4.5" height="20"/><rect x="1262.66" y="1568" width="4.5" height="20"/><rect x="1555.92" y="1568" width="4.5" height="20"/><rect x="1849.18" y="1568" width="4.5" height="20"/><rect x="2142.44" y="1568" width="4.5" height="20"/></g>
<text x="176" y="101.3" font-size="50" text-anchor="end">6</text>
<text x="176" y="308.9" font-size="50" text-anchor="end">4</text>
<text x="176" y="518.9" font-size="50" text-anchor="end">2</text>
<text x="176" y="726.5" font-size="50" text-anchor="end">0</text>
<text x="176" y="935.8" font-size="50" text-anchor="end">-2</text>
<text x="176" y="1145.1" font-size="50" text-anchor="end">-4</text>
<text x="176" y="1354.4" font-size="50" text-anchor="end">-6</text>
<text x="176" y="1562.5" font-size="50" text-anchor="end">-8</text>
<text x="238.5" y="1651" font-size="50" text-anchor="middle">4</text>
<text x="531.8" y="1651" font-size="50" text-anchor="middle">6</text>
<text x="825.0" y="1651" font-size="50" text-anchor="middle">8</text>
<text x="1118.3" y="1651" font-size="50" text-anchor="middle">10</text>
<text x="1411.5" y="1651" font-size="50" text-anchor="middle">12</text>
<text x="1704.8" y="1651" font-size="50" text-anchor="middle">14</text>
<text x="1998.1" y="1651" font-size="50" text-anchor="middle">16</text>
<text x="2291.3" y="1651" font-size="50" text-anchor="middle">18</text>
<text x="1272" y="1723.5" font-size="50" text-anchor="middle">Mean of SpHb and Hb (CBC)</text>
<text transform="translate(65.8,812.5) rotate(-90)" x="0" y="0" font-size="48.7" text-anchor="middle">SpHb - Hb (CBC)</text>
<text x="2282.5" y="315.5" font-size="51" text-anchor="end" xml:space="preserve">+1.96 SD</text>
<text x="2280" y="392.3" font-size="50" text-anchor="end" xml:space="preserve">3.6</text>
<text x="2281.5" y="607.3" font-size="51" text-anchor="end" xml:space="preserve">Mean</text>
<text x="2282" y="681.5" font-size="50" text-anchor="end" xml:space="preserve">0.8</text>
<text x="2282.5" y="901.5" font-size="51" text-anchor="end" xml:space="preserve">-1.96 SD</text>
<text x="2281.5" y="973.8" font-size="50" text-anchor="end" xml:space="preserve">- 2.0</text>
</svg></body></html>
